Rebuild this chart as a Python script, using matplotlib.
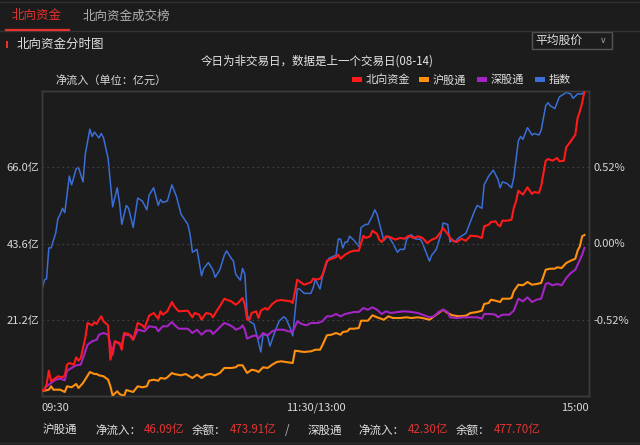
import matplotlib
matplotlib.use("Agg")
import matplotlib.pyplot as plt
from matplotlib.patches import Rectangle
from matplotlib.lines import Line2D

plt.rcParams['font.family'] = ['Noto Sans CJK SC', 'DejaVu Sans']

# ---------------- data ----------------
# minutes after 09:30 (lunch break removed, 0..240)
north_t = [0, 1, 2, 3, 4, 6, 7, 9, 10, 11, 12, 14, 15, 16, 17, 19, 20, 22, 23, 24, 25, 26, 27, 29, 30, 32, 34, 35,
           36, 38, 40, 42, 44, 45, 47, 49, 51, 52, 53, 55, 57, 58, 60, 64, 66, 67, 69, 70, 72, 74, 75, 77, 78, 80,
           81, 83, 85, 86, 88, 89, 90, 91, 92, 94, 95, 96, 98, 99, 101, 103, 105, 107, 109, 110, 112, 114, 115,
           118, 119, 120, 122, 123, 125, 126, 129, 130, 131, 133, 135, 137, 139, 141, 142, 144, 145, 147, 148,
           149, 151, 153, 155, 157, 159, 161, 163, 165, 167, 169, 171, 173, 175, 176, 178, 180, 182, 184, 186,
           188, 191, 193, 194, 196, 197, 199, 200, 201, 202, 204, 206, 207, 208, 209, 211, 213, 215, 216, 218,
           219, 221, 222, 224, 226, 227, 229, 230, 232, 234, 235, 236, 237, 238]
north_v = [0.5, 0.65, 2.12, 6.23, 3.12, 4.09, 4.59, 4.29, 4.88, 8.00, 8.49, 8.0, 10.17, 9.17, 9.96, 15.84, 20.25,
           19.57, 20.45, 19.95, 21.21, 22.21, 20.74, 19.57, 9.46, 14.87, 14.37, 12.40, 17.31, 17.01, 15.34, 20.25,
           19.57, 18.78, 22.39, 23.18, 21.51, 23.68, 22.68, 23.68, 26.41, 25.15, 23.68, 23.86, 21.92, 23.18,
           22.68, 21.21, 23.18, 22.89, 21.92, 24.15, 25.15, 27.38, 27.09, 26.62, 25.62, 26.12, 27.59, 25.62,
           21.21, 21.21, 23.18, 23.68, 21.71, 23.86, 24.65, 24.15, 25.83, 26.80, 27.00, 26.80, 26.62, 26.12,
           32.97, 32.00, 31.50, 32.20, 33.3, 32.97, 33.26, 34.26, 38.55, 38.84, 39.55, 40.31, 39.13, 40.31,
           41.10, 41.49, 41.49, 45.89, 45.22, 45.72, 47.36, 46.39, 44.72, 44.04, 45.72, 45.42, 44.72, 45.22,
           45.01, 45.89, 45.22, 45.72, 45.22, 43.75, 44.72, 45.22, 46.98, 48.15, 46.39, 44.42, 44.04, 45.01,
           44.42, 45.89, 45.72, 45.22, 48.65, 49.12, 49.92, 50.12, 49.12, 48.65, 50.30, 50.30, 50.59, 54.03,
           56.00, 59.11, 57.94, 60.11, 58.14, 58.73, 58.44, 60.40, 67.92, 68.42, 67.92, 68.72, 67.75, 67.92,
           71.86, 73.62, 75.56, 80.47, 82.44, 84.87, 88.39]

sh_t = [0, 1, 3, 4, 5, 8, 10, 11, 13, 15, 16, 18, 21, 23, 24, 25, 27, 29, 30, 31, 33, 34, 36, 37, 40, 42, 44, 46,
        47, 49, 51, 52, 54, 55, 57, 58, 61, 63, 66, 68, 70, 72, 74, 76, 78, 80, 83, 85, 86, 88, 90, 92, 94, 95,
        97, 99, 101, 103, 105, 107, 110, 111, 113, 115, 118, 120, 122, 123, 125, 127, 129, 131, 132, 134, 135,
        137, 139, 140, 143, 145, 147, 150, 152, 154, 157, 160, 162, 165, 167, 170, 172, 174, 176, 178, 180,
        183, 186, 188, 191, 193, 194, 196, 197, 199, 201, 202, 205, 206, 207, 209, 211, 213, 215, 217, 219,
        221, 223, 225, 226, 228, 230, 232, 234, 235, 236, 237, 238]
sh_v = [0.5, 0.36, 0.65, 1.65, 0.65, 0.65, -0.02, 1.65, 1.36, 2.33, 1.15, 2.62, 5.85, 5.26, 5.26, 4.88, 4.59, 3.59,
        1.65, -1.05, 0.18, -0.61, -1.2, 0.56, -0.02, 1.65, 1.36, 1.65, 3.29, 3.59, 3.29, 4.09, 3.88, 4.29, 5.56,
        5.26, 4.88, 5.26, 4.09, 5.06, 4.09, 5.06, 5.26, 4.88, 5.56, 7.03, 7.03, 7.23, 7.82, 7.82, 5.56, 6.53,
        6.23, 5.85, 7.23, 7.03, 8.00, 8.79, 8.99, 8.79, 8.49, 12.11, 11.93, 11.73, 11.93, 12.40, 12.40, 13.69,
        16.63, 16.81, 17.31, 16.81, 17.60, 17.81, 18.57, 18.57, 18.78, 20.92, 20.92, 22.51, 21.92, 21.21, 22.21,
        21.71, 21.71, 21.92, 21.71, 21.92, 21.71, 21.21, 22.21, 23.18, 24.15, 23.18, 22.51, 22.21, 22.39, 23.18,
        23.48, 23.86, 25.83, 26.12, 27.09, 26.80, 26.41, 27.38, 27.38, 27.59, 29.56, 31.50, 31.32, 32.29, 31.50,
        31.70, 32.00, 35.90, 36.20, 36.20, 36.61, 36.40, 37.87, 38.55, 39.13, 41.49, 42.78, 45.72, 46.09]

sz_t = [0, 1, 2, 4, 6, 8, 10, 11, 13, 15, 17, 18, 20, 22, 24, 25, 27, 29, 30, 31, 32, 34, 35, 36, 39, 40, 42, 45,
        47, 50, 51, 53, 55, 57, 58, 60, 64, 66, 68, 70, 72, 74, 75, 77, 78, 80, 82, 84, 85, 87, 88, 89, 90, 92,
        94, 95, 97, 99, 101, 103, 106, 108, 110, 112, 114, 116, 118, 121, 123, 125, 127, 129, 131, 133, 135,
        137, 139, 141, 143, 145, 147, 149, 151, 153, 156, 159, 162, 165, 167, 170, 172, 174, 176, 178, 179,
        182, 185, 188, 191, 193, 194, 197, 199, 200, 202, 205, 207, 208, 209, 211, 213, 215, 217, 219, 221,
        222, 224, 226, 228, 230, 232, 234, 235, 237, 238]
sz_v = [0.5, 0.65, 1.65, 2.62, 3.59, 3.88, 3.41, 6.23, 7.03, 7.82, 8.00, 9.96, 13.87, 14.87, 15.34, 16.81, 17.31,
        16.81, 13.87, 10.93, 14.87, 14.08, 13.69, 16.81, 16.63, 15.34, 18.28, 17.81, 19.28, 18.98, 17.81, 19.28,
        19.28, 20.54, 19.75, 18.57, 18.57, 17.31, 18.28, 16.81, 17.98, 17.98, 17.01, 18.28, 18.98, 20.25, 19.75,
        18.98, 18.28, 18.78, 19.57, 18.28, 15.63, 16.34, 16.63, 15.63, 17.31, 16.63, 17.81, 18.28, 18.28, 17.81,
        17.60, 20.74, 19.95, 19.57, 20.25, 20.25, 20.74, 22.21, 22.21, 22.89, 22.21, 22.89, 23.18, 23.48, 23.48,
        24.65, 24.15, 24.86, 24.15, 22.89, 23.68, 23.18, 23.48, 23.68, 23.48, 23.18, 22.68, 21.92, 22.21, 23.48,
        24.15, 23.48, 21.92, 21.71, 21.92, 21.92, 21.92, 21.51, 22.89, 22.89, 22.68, 21.92, 22.68, 22.68, 23.86,
        25.62, 27.38, 26.62, 27.79, 26.41, 27.09, 27.38, 31.70, 32.00, 31.32, 31.70, 31.32, 33.46, 34.93, 35.90,
        37.37, 40.31, 42.30]

idx_t = [0, 1, 2, 3, 4, 6, 7, 8, 9, 10, 12, 13, 15, 16, 18, 19, 21, 22, 23, 25, 26, 27, 29, 31, 33, 34, 35, 37,
         38, 40, 42, 44, 46, 47, 49, 51, 52, 53, 55, 57, 59, 61, 64, 65, 66, 68, 70, 71, 73, 75, 76, 78, 80, 81,
         83, 84, 85, 87, 88, 89, 90, 91, 93, 94, 96, 97, 99, 100, 102, 104, 106, 107, 109, 110, 112, 113, 115,
         118, 119, 120, 121, 122, 123, 125, 126, 129, 130, 131, 132, 133, 134, 135, 137, 139, 140, 142, 143,
         145, 146, 147, 150, 151, 152, 154, 156, 157, 159, 160, 162, 164, 166, 167, 170, 171, 173, 175, 176,
         178, 179, 180, 181, 183, 186, 188, 190, 191, 193, 194, 196, 198, 200, 201, 202, 204, 206, 207, 209,
         210, 211, 213, 215, 216, 218, 219, 221, 222, 223, 225, 227, 228, 230, 232, 233, 235, 237, 238]
idx_p = [-0.32, -0.25, -0.24, -0.03, -0.03, 0.07, 0.17, 0.20, 0.24, 0.21, 0.46, 0.40, 0.51, 0.52, 0.42, 0.61,
         0.78, 0.73, 0.76, 0.72, 0.75, 0.72, 0.58, 0.25, 0.38, 0.28, 0.13, 0.26, 0.24, 0.11, 0.31, 0.29, 0.23,
         0.33, 0.38, 0.26, 0.30, 0.28, 0.29, 0.40, 0.32, 0.20, 0.13, 0.06, -0.06, -0.04, -0.22, -0.17, -0.13,
         -0.18, -0.23, -0.18, -0.08, -0.05, -0.10, -0.12, -0.21, -0.25, -0.17, -0.21, -0.48, -0.53, -0.55, -0.61,
         -0.74, -0.62, -0.63, -0.70, -0.61, -0.53, -0.50, -0.51, -0.58, -0.63, -0.31, -0.31, -0.34, -0.34, -0.30,
         -0.24, -0.28, -0.31, -0.23, -0.13, -0.10, -0.08, 0.03, 0.03, -0.03, 0.01, 0.01, 0.05, 0.02, -0.02, 0.11,
         0.13, 0.13, 0.19, 0.23, 0.20, 0.02, 0.04, 0.05, 0.00, -0.06, -0.04, -0.04, 0.03, 0.06, 0.03, 0.03, 0.00,
         -0.12, -0.08, -0.04, 0.06, 0.14, 0.13, 0.01, 0.03, 0.01, 0.04, 0.07, 0.15, 0.23, 0.26, 0.24, 0.40, 0.46,
         0.50, 0.44, 0.38, 0.42, 0.41, 0.38, 0.45, 0.70, 0.73, 0.71, 0.79, 0.74, 0.75, 0.74, 0.77, 0.94, 0.96,
         0.94, 0.92, 1.00, 1.01, 1.03, 1.02, 0.99, 1.02, 1.02, 1.04]

flow_ticks = [21.2, 43.6, 66.0]
flow_labels = ['21.2亿', '43.6亿', '66.0亿']
pct_ticks = [-0.52, 0.0, 0.52]
pct_labels = ['-0.52%', '0.00%', '0.52%']
time_ticks = [0, 120, 240]
time_labels = ['09:30', '11:30/13:00', '15:00']

series_names = ['北向资金', '沪股通', '深股通', '指数']
series_colors = ['#ff1a1a', '#ff9010', '#a424c4', '#3a6ed8']

footer = [('沪股通', '46.09亿', '473.91亿'), ('深股通', '42.30亿', '477.70亿')]

# ---------------- figure ----------------
W, H = 640, 445
BG = '#1c1c1c'
fig = plt.figure(figsize=(W / 100, H / 100), dpi=100, facecolor=BG)


def P(x, y):
    return x / W, 1 - y / H


def ftext(x, y, s, **kw):
    kw.setdefault('color', '#d4d4d4')
    kw.setdefault('fontsize', 8)
    kw.setdefault('va', 'center')
    fig.text(*P(x, y), s, **kw)


def fline(x0, y0, x1, y1, **kw):
    a, b = P(x0, y0)
    c, d = P(x1, y1)
    fig.add_artist(Line2D([a, c], [b, d], transform=fig.transFigure, **kw))


def frect(x, y, w, h, **kw):
    a, b = P(x, y + h)
    fig.add_artist(Rectangle((a, b), w / W, h / H, transform=fig.transFigure, **kw))


# header
fline(0, 2, W, 2, color='#2e2e2e', lw=1)
fline(0, 31, W, 31, color='#333333', lw=1)
ftext(12, 16, '北向资金', color='#e8302c', fontsize=9)
fline(6, 29.5, 69, 29.5, color='#e8302c', lw=1.6)
ftext(83, 16, '北向资金成交榜', color='#b0b0b0', fontsize=9)
frect(6, 41, 2.2, 7, color='#e8302c', lw=0)
ftext(17, 44, '北向资金分时图', color='#e0e0e0', fontsize=9)
frect(531.5, 32, 80, 16.5, facecolor='none', edgecolor='#555555', lw=1)
ftext(535, 40, '平均股价', color='#e0e0e0', fontsize=8.5)
ftext(603, 40.5, '∨', color='#9a9a9a', fontsize=6.5, ha='center', family=['DejaVu Sans'])

ftext(317, 61, '今日为非交易日，数据是上一个交易日(08-14)', color='#e6e6e6', fontsize=8.3, ha='center')
ftext(55, 80, '净流入（单位：亿元）', color='#d8d8d8', fontsize=8)

leg_x = [352, 419, 477, 535]
for lx, name, col in zip(leg_x, series_names, series_colors):
    frect(lx, 77.5, 10, 4, color=col, lw=0)
    ftext(lx + 14, 80, name, color='#e0e0e0', fontsize=8)

# plot area
ax = fig.add_axes([42 / W, (H - 396) / H, 547 / W, 305 / H])
ax.set_facecolor(BG)
ax.plot(north_t, north_v, color=series_colors[0], lw=1.5, zorder=4)
ax.plot(sh_t, sh_v, color=series_colors[1], lw=1.5, zorder=3)
ax.plot(sz_t, sz_v, color=series_colors[2], lw=1.5, zorder=3)
ax.set_xlim(0, 240)
ax.set_ylim(-1.2, 88.4)
ax.set_yticks(flow_ticks)
ax.set_yticklabels(flow_labels)
ax.set_xticks(time_ticks)
ax.set_xticklabels(time_labels)
for lab, ha in zip(ax.get_xticklabels(), ['left', 'center', 'right']):
    lab.set_ha(ha)
ax.tick_params(axis='y', length=0, pad=2, colors='#d8d8d8', labelsize=8)
ax.tick_params(axis='x', length=0, pad=5, colors='#d8d8d8', labelsize=8)
ax.grid(axis='y', color='#444444', lw=0.8, linestyle=(0, (1.5, 3)))
ax.grid(axis='x', visible=False)
for sp in ax.spines.values():
    sp.set_color('#3c3c3c')
    sp.set_linewidth(1)

ax2 = ax.twinx()
ax2.plot(idx_t, idx_p, color=series_colors[3], lw=1.1, zorder=2)
ax2.set_ylim(-1.04, 1.04)
ax2.set_yticks(pct_ticks)
ax2.set_yticklabels(pct_labels)
ax2.tick_params(axis='y', length=0, pad=3, colors='#d8d8d8', labelsize=8)
for sp in ax2.spines.values():
    sp.set_color('#3c3c3c')
    sp.set_linewidth(1)
ax.set_zorder(ax2.get_zorder() + 1)
ax.patch.set_visible(False)
ax2.patch.set_visible(True)
ax2.patch.set_facecolor(BG)

# footer
fy = 430
blocks = [(43, 95, 144, 192, 230), (308, 358, 408, 456, 494)]
for (x0, x1, x2, x3, x4), (name, inflow, bal) in zip(blocks, footer):
    ftext(x0, fy, name, color='#e0e0e0', fontsize=8.3)
    ftext(x1, fy, '净流入：', color='#e0e0e0', fontsize=8.3)
    ftext(x2, fy, inflow, color='#e03434', fontsize=8.3)
    ftext(x3, fy, '余额：', color='#e0e0e0', fontsize=8.3)
    ftext(x4, fy, bal, color='#e03434', fontsize=8.3)
ftext(287, fy, '/', color='#bbbbbb', fontsize=8.3, ha='center')
fline(0, 443, W, 443, color='#2c2c2c', lw=1)

fig.savefig('out.png', dpi=100, facecolor=BG)
